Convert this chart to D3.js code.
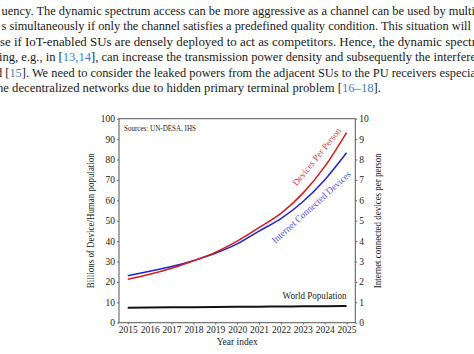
<!DOCTYPE html>
<html>
<head>
<meta charset="utf-8">
<script src="https://cdn.jsdelivr.net/npm/d3@7"></script>
<style>
body { margin: 0; background: #fff; }
svg { display: block; }
</style>
</head>
<body>
<div id="chart"></div>
<script>
// data
const years = [2015, 2016, 2017, 2018, 2019, 2020, 2021, 2022, 2023, 2024, 2025];
const devicesPerPerson = [2.13, 2.37, 2.67, 3.04, 3.45, 4.00, 4.66, 5.36, 6.34, 7.65, 9.32];
const connectedDevices = [23.0, 25.2, 27.5, 30.4, 34.0, 38.6, 44.9, 51.0, 59.3, 70.0, 83.3];
const worldPopulation = [7.38, 7.46, 7.55, 7.63, 7.71, 7.79, 7.87, 7.95, 8.03, 8.10, 8.18];
const leftTicks = [0, 10, 20, 30, 40, 50, 60, 70, 80, 90, 100];
const rightTicks = [0, 1, 2, 3, 4, 5, 6, 7, 8, 9, 10];

// paragraph above the figure: [segments, start x, end x]
const paragraph = [
    [[["uency. The dynamic spectrum access can be more aggressive as a channel can be used by multi", 0]], 1.5, 475],
    [[["s simultaneously if only the channel satisfies a predefined quality condition. This situation will", 0]], 1.5, 471],
    [[["se if IoT-enabled SUs are densely deployed to act as competitors. Hence, the dynamic spectr", 0]], 0, 476],
    [[["ing, e.g., in [", 0], ["13,14", 1], ["], can increase the transmission power density and subsequently the interfere", 0]], -1, 476],
    [[["d [", 0], ["15", 1], ["]. We need to consider the leaked powers from the adjacent SUs to the PU receivers especia", 0]], -4, 476],
    [[["he decentralized networks due to hidden primary terminal problem [", 0], ["16\u201318", 1], ["].", 0]], -3, 381]
];

const W = 474, H = 354;
const frame = { left: 119, right: 355.3, top: 118.7, bottom: 322.7 };
const serif = "'Liberation Serif', 'DejaVu Serif', serif";

const svg = d3.select("#chart").append("svg")
    .attr("width", W)
    .attr("height", H)
    .style("background", "#fff");

// text lines
paragraph.forEach((line, i) => {
    const t = svg.append("text")
        .attr("x", line[1])
        .attr("y", 14.7 + i * 15.5)
        .attr("font-family", serif)
        .attr("font-size", 12)
        .attr("fill", "#1a1a1a")
        .attr("textLength", line[2] - line[1])
        .attr("lengthAdjust", "spacingAndGlyphs");
    line[0].forEach(seg => {
        t.append("tspan")
            .attr("fill", seg[1] ? "#3b7fd0" : "#1a1a1a")
            .text(seg[0]);
    });
});

const x = d3.scaleLinear().domain([2014.6, 2025.4]).range([frame.left, frame.right]);
const yLeft = d3.scaleLinear().domain([0, 100]).range([frame.bottom, frame.top]);
const yRight = d3.scaleLinear().domain([0, 10]).range([frame.bottom, frame.top]);

const g = svg.append("g");

function styleAxis(sel) {
    sel.select(".domain").remove();
    sel.selectAll(".tick line").attr("stroke", "#777");
    sel.selectAll(".tick text")
        .attr("font-family", serif)
        .attr("font-size", 9.5)
        .attr("fill", "#222");
}

g.append("g")
    .attr("transform", `translate(${frame.left},0)`)
    .call(d3.axisLeft(yLeft).tickValues(leftTicks).tickSize(2).tickPadding(2))
    .call(styleAxis);

g.append("g")
    .attr("transform", `translate(${frame.right},0)`)
    .call(d3.axisRight(yRight).tickValues(rightTicks).tickSize(2).tickPadding(2))
    .call(styleAxis);

g.append("g")
    .attr("transform", `translate(0,${frame.bottom})`)
    .call(d3.axisBottom(x).tickValues(years).tickFormat(d3.format("d")).tickSize(2).tickPadding(2))
    .call(styleAxis);

g.append("rect")
    .attr("x", frame.left)
    .attr("y", frame.top)
    .attr("width", frame.right - frame.left)
    .attr("height", frame.bottom - frame.top)
    .attr("fill", "none")
    .attr("stroke", "#555")
    .attr("stroke-width", 1);

// series
const lineLeft = d3.line().x((d, i) => x(years[i])).y(d => yLeft(d)).curve(d3.curveMonotoneX);
const lineRight = d3.line().x((d, i) => x(years[i])).y(d => yRight(d)).curve(d3.curveMonotoneX);

g.append("path")
    .attr("d", lineLeft(worldPopulation))
    .attr("fill", "none")
    .attr("stroke", "#111")
    .attr("stroke-width", 2);

g.append("path")
    .attr("d", lineLeft(connectedDevices))
    .attr("fill", "none")
    .attr("stroke", "#2222d0")
    .attr("stroke-width", 1.5);

g.append("path")
    .attr("d", lineRight(devicesPerPerson))
    .attr("fill", "none")
    .attr("stroke", "#d41c1c")
    .attr("stroke-width", 1.5);

// annotations
g.append("text")
    .attr("transform", `translate(${x(2023.63)},${yLeft(81.4)}) rotate(-51)`)
    .attr("text-anchor", "middle")
    .attr("dy", "0.35em")
    .attr("font-family", serif)
    .attr("font-size", 9.5)
    .attr("textLength", 71.6)
    .attr("lengthAdjust", "spacingAndGlyphs")
    .attr("fill", "#e04545")
    .text("Devices Per Person");

g.append("text")
    .attr("transform", `translate(${x(2023.38)},${yLeft(56.7)}) rotate(-42)`)
    .attr("text-anchor", "middle")
    .attr("dy", "0.35em")
    .attr("font-family", serif)
    .attr("font-size", 9.5)
    .attr("textLength", 102.7)
    .attr("lengthAdjust", "spacingAndGlyphs")
    .attr("fill", "#5050e0")
    .text("Internet Connected Devices");

g.append("text")
    .attr("x", x(2025))
    .attr("y", 299)
    .attr("text-anchor", "end")
    .attr("font-family", serif)
    .attr("font-size", 10)
    .attr("textLength", 64)
    .attr("lengthAdjust", "spacingAndGlyphs")
    .attr("fill", "#222")
    .text("World Population");

g.append("text")
    .attr("x", 124)
    .attr("y", 131)
    .attr("font-family", serif)
    .attr("font-size", 8)
    .attr("textLength", 72)
    .attr("lengthAdjust", "spacingAndGlyphs")
    .attr("fill", "#222")
    .text("Sources: UN-DESA, IHS");

// axis titles
g.append("text")
    .attr("transform", `translate(90.7,${(frame.top + frame.bottom) / 2}) rotate(-90)`)
    .attr("text-anchor", "middle")
    .attr("dy", "0.35em")
    .attr("font-family", serif)
    .attr("font-size", 9.5)
    .attr("textLength", 135)
    .attr("lengthAdjust", "spacingAndGlyphs")
    .attr("fill", "#222")
    .text("Billions of Device/Human population");

g.append("text")
    .attr("transform", `translate(377.7,${(frame.top + frame.bottom) / 2}) rotate(-90)`)
    .attr("text-anchor", "middle")
    .attr("dy", "0.35em")
    .attr("font-family", serif)
    .attr("font-size", 9.5)
    .attr("textLength", 135)
    .attr("lengthAdjust", "spacingAndGlyphs")
    .attr("fill", "#222")
    .text("Internet connected devices per person");

g.append("text")
    .attr("x", (frame.left + frame.right) / 2)
    .attr("y", 341.7)
    .attr("text-anchor", "middle")
    .attr("dy", "0.35em")
    .attr("font-family", serif)
    .attr("font-size", 9.5)
    .attr("fill", "#222")
    .text("Year index");
</script>
</body>
</html>
